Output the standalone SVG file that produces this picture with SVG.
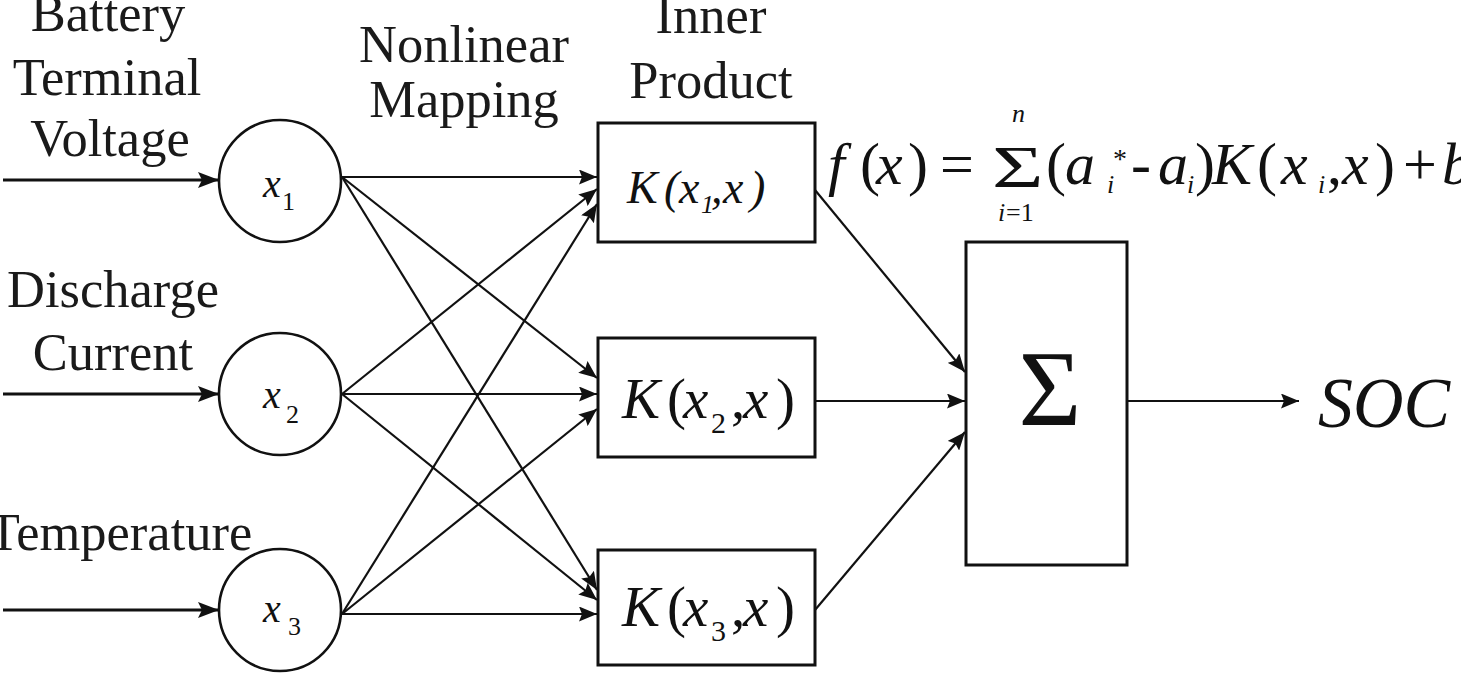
<svg xmlns="http://www.w3.org/2000/svg" width="1461" height="681" viewBox="0 0 1461 681">
<style>
  text{font-family:'Liberation Serif','DejaVu Serif',Tinos,serif}
  .lbl{font-size:52.5px;fill:#1a1a1a;text-anchor:middle}
  .m{fill:#111}
  .it{font-style:italic}
  .node{fill:#fff;stroke:#111;stroke-width:3}
  .circ{fill:#fff;stroke:#111;stroke-width:2.6}
  .in{stroke:#111;stroke-width:3.2;fill:none}
  .cx{stroke:#111;stroke-width:2.2;fill:none}
</style>
<defs>
  <marker id="big" markerUnits="userSpaceOnUse" markerWidth="22" markerHeight="16" refX="21" refY="8" orient="auto">
    <path d="M0,0 L21,8 L0,16 L4,8 z" fill="#111"/>
  </marker>
  <marker id="small" markerUnits="userSpaceOnUse" markerWidth="19" markerHeight="15" refX="18" refY="7.5" orient="auto">
    <path d="M0,0 L18,7.5 L0,15 L3,7.5 z" fill="#111"/>
  </marker>
</defs>
<rect width="1461" height="681" fill="#fff"/>

<g id="labels">
  <text class="lbl" x="108" y="31">Battery</text>
  <text class="lbl" x="107" y="95">Terminal</text>
  <text class="lbl" x="110" y="156">Voltage</text>
  <text class="lbl" x="113" y="307">Discharge</text>
  <text class="lbl" x="113" y="370">Current</text>
  <text class="lbl" x="120" y="550">Temperature</text>
  <text class="lbl" x="464" y="62">Nonlinear</text>
  <text class="lbl" x="464" y="117">Mapping</text>
  <text class="lbl" x="711" y="33">Inner</text>
  <text class="lbl" x="711" y="98">Product</text>
</g>

<g id="connectors">
  <line class="in" x1="3" y1="180" x2="219" y2="180" marker-end="url(#big)"/>
  <line class="in" x1="3" y1="394" x2="219" y2="394" marker-end="url(#big)"/>
  <line class="in" x1="3" y1="610" x2="219" y2="610" marker-end="url(#big)"/>

  <line class="cx" x1="342" y1="177" x2="597" y2="177" marker-end="url(#small)"/>
  <line class="cx" x1="342" y1="177" x2="597" y2="378" marker-end="url(#small)"/>
  <line class="cx" x1="342" y1="177" x2="597" y2="590" marker-end="url(#small)"/>

  <line class="cx" x1="342" y1="394" x2="597" y2="189" marker-end="url(#small)"/>
  <line class="cx" x1="342" y1="394" x2="597" y2="394" marker-end="url(#small)"/>
  <line class="cx" x1="342" y1="394" x2="597" y2="600" marker-end="url(#small)"/>

  <line class="cx" x1="342" y1="614" x2="597" y2="204" marker-end="url(#small)"/>
  <line class="cx" x1="342" y1="614" x2="597" y2="409" marker-end="url(#small)"/>
  <line class="cx" x1="342" y1="614" x2="597" y2="614" marker-end="url(#small)"/>

  <line class="cx" x1="815" y1="190" x2="965" y2="372" marker-end="url(#small)"/>
  <line class="cx" x1="815" y1="401" x2="965" y2="401" marker-end="url(#small)"/>
  <line class="cx" x1="815" y1="610" x2="965" y2="432" marker-end="url(#small)"/>
  <line class="cx" x1="1127" y1="401" x2="1299" y2="401" marker-end="url(#small)"/>
</g>

<g id="x1">
  <circle class="circ" cx="280" cy="181" r="61"/>
  <text class="m it" x="263" y="197" font-size="40">x</text>
  <text class="m" x="282" y="210" font-size="26">1</text>
</g>
<g id="x2">
  <circle class="circ" cx="280" cy="394" r="61"/>
  <text class="m it" x="263" y="408" font-size="40">x</text>
  <text class="m" x="286" y="423" font-size="26">2</text>
</g>
<g id="x3">
  <circle class="circ" cx="280" cy="610" r="61"/>
  <text class="m it" x="263" y="622" font-size="40">x</text>
  <text class="m" x="288" y="635" font-size="26">3</text>
</g>

<g id="k1">
  <rect class="node" x="598" y="123" width="217" height="119"/>
  <text class="m it" font-size="46" y="203"><tspan x="627">K</tspan><tspan x="664">(</tspan><tspan x="679">x</tspan><tspan x="701" y="213" font-size="26">1</tspan><tspan x="711" y="203">,</tspan><tspan x="723">x</tspan><tspan x="750">)</tspan></text>
</g>
<g id="k2">
  <rect class="node" x="598" y="338" width="217" height="119"/>
  <text class="m" font-size="57" y="418"><tspan x="622" class="it">K</tspan><tspan x="667">(</tspan><tspan x="683" class="it">x</tspan><tspan x="711" y="433" font-size="30">2</tspan><tspan x="731" y="418">,</tspan><tspan x="743" class="it">x</tspan><tspan x="776">)</tspan></text>
</g>
<g id="k3">
  <rect class="node" x="598" y="550" width="217" height="115"/>
  <text class="m" font-size="57" y="626"><tspan x="622" class="it">K</tspan><tspan x="667">(</tspan><tspan x="683" class="it">x</tspan><tspan x="711" y="641" font-size="30">3</tspan><tspan x="731" y="626">,</tspan><tspan x="743" class="it">x</tspan><tspan x="776">)</tspan></text>
</g>

<g id="sum">
  <rect class="node" x="966" y="242" width="161" height="323"/>
  <text class="m" x="1050" y="425" font-size="108" text-anchor="middle">Σ</text>
</g>

<g id="soc">
  <text class="m it" x="1318" y="427" font-size="72" textLength="132" lengthAdjust="spacingAndGlyphs">SOC</text>
</g>

<g id="formula">
  <text class="m" font-size="60" y="184"><tspan x="828" class="it">f</tspan><tspan x="860">(</tspan><tspan x="876" class="it">x</tspan><tspan x="908">)</tspan><tspan x="940">=</tspan></text>
  <text class="m" font-size="59" transform="translate(992,187) scale(1.5,1)">Σ</text>
  <text class="m it" x="1012" y="122" font-size="26">n</text>
  <text class="m" y="221" font-size="26"><tspan x="998" class="it">i</tspan><tspan x="1006">=1</tspan></text>
  <text class="m" font-size="60" y="184"><tspan x="1046">(</tspan><tspan x="1065" class="it">a</tspan></text>
  <text class="m it" x="1107" y="193" font-size="26">i</text>
  <text class="m" x="1113" y="168" font-size="28">*</text>
  <text class="m" font-size="60" y="184"><tspan x="1131">-</tspan><tspan x="1158" class="it">a</tspan></text>
  <text class="m it" x="1187" y="193" font-size="26">i</text>
  <text class="m" font-size="60" y="184"><tspan x="1195">)</tspan><tspan x="1212" class="it">K</tspan><tspan x="1257">(</tspan><tspan x="1281" class="it">x</tspan></text>
  <text class="m it" x="1318" y="193" font-size="26">i</text>
  <text class="m" font-size="60" y="184"><tspan x="1327">,</tspan><tspan x="1342" class="it">x</tspan><tspan x="1375">)</tspan><tspan x="1403">+</tspan><tspan x="1442" class="it">b</tspan></text>
</g>
</svg>
